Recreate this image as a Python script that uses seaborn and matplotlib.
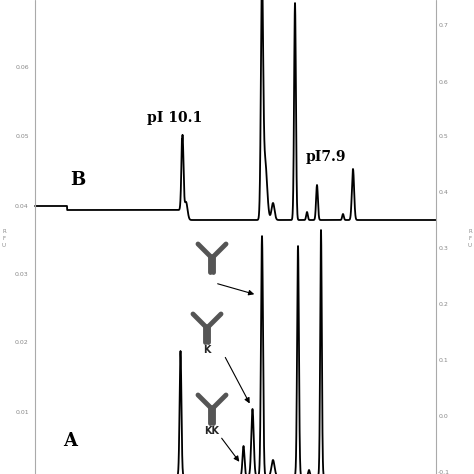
import numpy as np
import pandas as pd
import matplotlib
matplotlib.use("Agg")
import matplotlib.pyplot as plt
import seaborn as sns

# peaks as (position px, top px, half-width px) in figure pixel coordinates
peaks_b = [(182.5, 136, 1.0), (186, 202, 1.5), (262, -5, 1.1), (265, 160, 2.0), (273, 203, 1.5),
           (295, 3, 0.9), (307, 212, 0.8), (317, 185, 0.9), (343, 214, 0.8), (353, 169, 1.1)]
peaks_a = [(180.5, 351, 0.9), (243.5, 446, 1.0), (252.5, 409, 1.2), (262, 236, 1.0), (273, 460, 1.5),
           (298, 246, 0.9), (309, 470, 0.8), (321, 230, 0.8)]
left_ticks = [(67, "0.06"), (137, "0.05"), (206, "0.04"), (274, "0.03"), (343, "0.02"), (413, "0.01")]
right_ticks = [(25, "0.7"), (82, "0.6"), (137, "0.5"), (193, "0.4"), (248, "0.3"),
               (304, "0.2"), (360, "0.1"), (416, "0.0"), (472, "-0.1")]

x = np.linspace(35, 436, 4000)

def trace(base, peaks):
    y = base.copy()
    for pos, top, w in peaks:
        b = np.interp(pos, x, base)
        y -= (b - top) * np.exp(-0.5 * ((x - pos) / w) ** 2)
    return y

base_b = np.where(x < 67, 206, np.where(x < 182, 210, 220)).astype(float)
base_a = np.full_like(x, 476.0)
df = pd.DataFrame({"x": np.concatenate([x, x]),
                   "y": np.concatenate([trace(base_b, peaks_b), trace(base_a, peaks_a)]),
                   "trace": ["B"] * len(x) + ["A"] * len(x)})

sns.set_style("white")
fig = plt.figure(figsize=(4.74, 4.74), dpi=100)
ax = fig.add_axes([0, 0, 1, 1])
sns.lineplot(data=df, x="x", y="y", units="trace", estimator=None, color="black",
             linewidth=1.3, ax=ax, sort=False)
ax.set_xlim(0, 474)
ax.set_ylim(474, 0)
ax.axis("off")
ax.axvline(35, color="#aaaaaa", linewidth=0.8)
ax.axvline(436, color="#aaaaaa", linewidth=0.8)

for y, t in left_ticks:
    ax.text(22, y, t, fontsize=4.5, color="#888888", ha="center", va="center")
for y, t in right_ticks:
    ax.text(444, y, t, fontsize=4.5, color="#888888", ha="center", va="center")
for yy, ch in zip([231, 238, 245], "RFU"):
    ax.text(4, yy, ch, fontsize=4, color="#888888", ha="center", va="center")
    ax.text(470, yy, ch, fontsize=4, color="#888888", ha="center", va="center")

serif = dict(family="DejaVu Serif", fontweight="bold", color="black")
ax.text(175, 118, "pI 10.1", fontsize=10, ha="center", va="center", **serif)
ax.text(326, 157, "pI7.9", fontsize=10, ha="center", va="center", **serif)
ax.text(78, 180, "B", fontsize=13, ha="center", va="center", **serif)
ax.text(70, 441, "A", fontsize=13, ha="center", va="center", **serif)

def antibody(cx, cy, label):
    kw = dict(color="#555555", linewidth=3.5, solid_capstyle="round")
    ax.plot([cx - 1.5, cx - 1.5], [cy + 4, cy + 20], **kw)
    ax.plot([cx + 1.5, cx + 1.5], [cy + 4, cy + 20], **kw)
    ax.plot([cx - 2, cx - 14], [cy + 4, cy - 8], **kw)
    ax.plot([cx + 2, cx + 14], [cy + 4, cy - 8], **kw)
    if label:
        ax.text(cx, cy + 28, label, fontsize=7, fontweight="bold", ha="center", va="center")

antibody(212, 252, "")
antibody(207, 322, "K")
antibody(212, 403, "KK")

arrow = dict(arrowstyle="-|>", color="black", linewidth=0.8, mutation_scale=8)
ax.annotate("", xy=(257, 295), xytext=(215, 283), arrowprops=arrow)
ax.annotate("", xy=(251, 406), xytext=(224, 355), arrowprops=arrow)
ax.annotate("", xy=(241, 464), xytext=(220, 436), arrowprops=arrow)

fig.savefig("out.png", dpi=100)
